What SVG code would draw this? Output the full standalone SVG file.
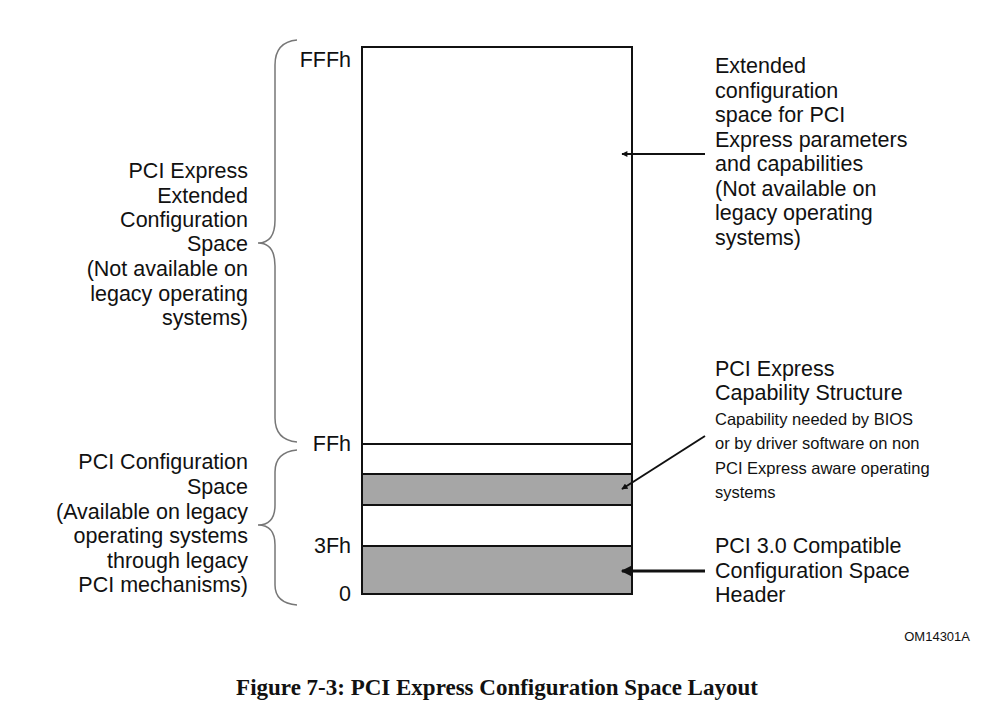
<svg xmlns="http://www.w3.org/2000/svg" width="995" height="716" viewBox="0 0 995 716">
<style>
text{font-family:"Liberation Sans",Arial,sans-serif;font-size:21.5px;fill:#111}
.r{text-anchor:end}
.s{font-size:16.5px}
.cap{font-family:"Liberation Serif","Times New Roman",serif;font-weight:bold;font-size:23px;text-anchor:middle}
.b{fill:none;stroke:#777;stroke-width:1.5}
.ln{stroke:#111;stroke-width:2}
</style>
<defs><marker id="ah" viewBox="0 0 10 10" refX="9" refY="5" markerWidth="7" markerHeight="6" orient="auto" markerUnits="userSpaceOnUse"><path d="M0,0L10,5L0,10z" fill="#111"/></marker>
<marker id="ah2" viewBox="0 0 10 10" refX="9" refY="5" markerWidth="14" markerHeight="12" orient="auto" markerUnits="userSpaceOnUse"><path d="M0,0L10,5L0,10z" fill="#111"/></marker></defs>
<g id="memory">
<rect x="362" y="47" width="270" height="547" fill="#fff" stroke="#111" stroke-width="2"/>
<line class="ln" x1="362" y1="444" x2="632" y2="444"/>
<rect x="362" y="474" width="270" height="31" fill="#a6a6a6" stroke="#111" stroke-width="2"/>
<rect x="362" y="546" width="270" height="48" fill="#a6a6a6" stroke="#111" stroke-width="2"/>
<text class="r" x="351" y="67">FFFh</text>
<text class="r" x="351" y="451">FFh</text>
<text class="r" x="351" y="553">3Fh</text>
<text class="r" x="351" y="601">0</text>
</g>
<g id="extended-brace">
<path class="b" d="M297,40 Q275,42 275,65 L275,220 Q275,243 258,243 Q275,243 275,266 L275,418 Q275,440 297,442"/>
<text class="r" x="248" y="178">PCI Express</text><text class="r" x="248" y="203">Extended</text><text class="r" x="248" y="227">Configuration</text><text class="r" x="248" y="251">Space</text><text class="r" x="248" y="276">(Not available on</text><text class="r" x="248" y="301">legacy operating</text><text class="r" x="248" y="325">systems)</text>
</g>
<g id="pci-brace">
<path class="b" d="M297,450 Q275,452 275,472 L275,505 Q275,525 258,525 Q275,525 275,545 L275,585 Q275,603 297,605"/>
<text class="r" x="248" y="469">PCI Configuration</text><text class="r" x="248" y="494">Space</text><text class="r" x="248" y="519">(Available on legacy</text><text class="r" x="248" y="543">operating systems</text><text class="r" x="248" y="568">through legacy</text><text class="r" x="248" y="592">PCI mechanisms)</text>
</g>
<g id="ext-label"><text x="715" y="73">Extended</text><text x="715" y="98">configuration</text><text x="715" y="122">space for PCI</text><text x="715" y="147">Express parameters</text><text x="715" y="171">and capabilities</text><text x="715" y="196">(Not available on</text><text x="715" y="220">legacy operating</text><text x="715" y="245">systems)</text></g>
<g id="cap-label"><text x="715" y="376">PCI Express</text><text x="715" y="400">Capability Structure</text><text class="s" x="715" y="425">Capability needed  by BIOS</text><text class="s" x="715" y="449">or by driver software on non</text><text class="s" x="715" y="474">PCI Express aware operating</text><text class="s" x="715" y="498">systems</text></g>
<g id="hdr-label"><text x="715" y="553">PCI 3.0 Compatible</text><text x="715" y="578">Configuration Space</text><text x="715" y="602">Header</text></g>
<g id="connectors">
<line x1="705" y1="154" x2="622" y2="154" stroke="#111" stroke-width="2" marker-end="url(#ah)"/>
<line x1="705" y1="436" x2="622" y2="489" stroke="#111" stroke-width="2" marker-end="url(#ah)"/>
<line x1="705" y1="571" x2="622" y2="571" stroke="#111" stroke-width="3" marker-end="url(#ah2)"/>
</g>
<text x="970" y="641" class="r" style="font-size:13px">OM14301A</text>
<text class="cap" x="497" y="695">Figure 7-3:  PCI Express Configuration Space Layout</text>
</svg>
